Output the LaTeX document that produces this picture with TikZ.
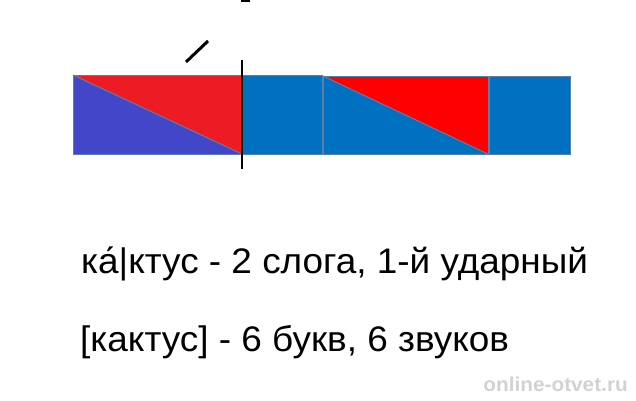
\documentclass[tikz,border=0pt]{standalone}
\usepackage{fontspec}
\setmainfont[FakeStretch=1.04]{Liberation Sans}
\definecolor{violet}{HTML}{4246C8}
\definecolor{darkred}{HTML}{ED1C24}
\definecolor{blockblue}{HTML}{0070C0}
\definecolor{pure}{HTML}{FF0000}
\definecolor{edge}{HTML}{5F7EA6}
\definecolor{mark}{HTML}{D2D2D2}

\begin{document}
\begin{tikzpicture}[x=1pt,y=-1pt]
\useasboundingbox (0,0) rectangle (636,400);

\tikzset{block/.style={fill=blockblue,draw=edge,line width=0.8pt}}
\tikzset{half/.style={draw=edge,line width=0.8pt}}
\tikzset{line/.style={text=black,font=\fontsize{35.5}{40}\selectfont,anchor=base west,inner sep=0pt}}

  \coordinate (a) at (73,75);
  \coordinate (b) at (242,154);
  \coordinate (c) at (323,76);
  \coordinate (d) at (488,154);

% first syllable
\fill[violet] (a) rectangle (b);
\fill[darkred] (a) -- (b |- a) -- (b) -- cycle;
\draw[half] (a) rectangle (b);
\draw[edge,line width=1pt] (a) -- (b);
\draw[block] (242,75) rectangle (322,154);

% second syllable
\fill[blockblue] (c) rectangle (d);
\fill[pure] (c) -- (d |- c) -- (d) -- cycle;
\draw[half] (c) rectangle (d);
\draw[edge,line width=1pt] (c) -- (d);
\draw[block] (489,76) rectangle (570,154);

% stress and syllable border
\coordinate (s1) at (186,62);
\coordinate (s2) at (208,41);
\draw[line width=3pt] (s1) -- (s2);
\coordinate (t1) at (242,60);
\coordinate (t2) at (242,169);
\draw[line width=2.2pt] (t1) -- (t2);
\coordinate (u1) at (241,1);
\coordinate (u2) at (250,1);
\draw[line width=2pt] (u1) -- (u2);

\node[line] (syl) at (81,273) {ка\char"0301|ктус - 2 слога, 1-й ударный};
\node[line] (snd) at (80,351) {[кактус] - 6 букв, 6 звуков};
\node[text=mark,font=\bfseries\fontsize{20}{22}\selectfont,anchor=base east,inner sep=0pt] (site) at (628,391) {online-otvet.ru};
\end{tikzpicture}
\end{document}
